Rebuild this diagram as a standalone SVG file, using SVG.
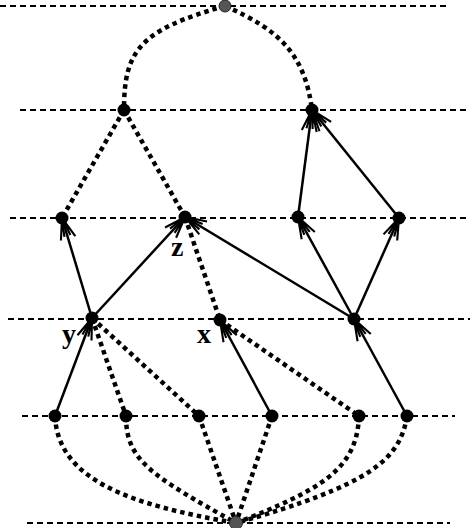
<svg xmlns="http://www.w3.org/2000/svg" width="474" height="528" viewBox="0 0 474 528">
<style>
.lvl{stroke:#000;stroke-width:2;stroke-dasharray:6 4;fill:none}
.dot{stroke:#000;stroke-width:4.5;stroke-dasharray:4.5 4;fill:none}
.arr{stroke:#000;stroke-width:2.5;fill:none;marker-end:url(#ah)}
.n{fill:#000}
.g{fill:#555;stroke:#222;stroke-width:1}
.lab{font-family:"Liberation Serif",serif;font-weight:bold;font-size:28px;fill:#000}
</style>
<defs>
<marker id="ah" markerUnits="userSpaceOnUse" markerWidth="30" markerHeight="30" viewBox="-22 -11 24 22" refX="0" refY="0" orient="auto">
<path d="M-17,-6 L0,0 L-17,6 M-15,-2.5 L0,0 L-15,2.5" stroke="#000" stroke-width="1.7" fill="none"/>
</marker>
</defs>
<g id="levels">
<line class="lvl" x1="0" y1="6" x2="450" y2="6"/>
<line class="lvl" x1="20" y1="110" x2="470" y2="110"/>
<line class="lvl" x1="10" y1="218" x2="468" y2="218"/>
<line class="lvl" x1="8" y1="319" x2="470" y2="319"/>
<line class="lvl" x1="22" y1="416" x2="455" y2="416"/>
<line class="lvl" x1="27" y1="523" x2="450" y2="523"/>
</g>
<g id="connectors">
<path class="dot" d="M225,6 C140,30 124,50 124,110"/>
<path class="dot" d="M225,6 C280,30 305,55 312,110"/>
<path class="dot" d="M124,110 L62,218"/>
<path class="dot" d="M124,110 L185,217"/>
<path class="dot" d="M185,217 L220,320"/>
<path class="dot" d="M92,318 L126,416"/>
<path class="dot" d="M92,318 L199,416"/>
<path class="dot" d="M220,320 L359,416"/>
<path class="dot" d="M55,416 C58,480 130,505 236,523"/>
<path class="dot" d="M126,416 C126,460 150,475 236,523"/>
<path class="dot" d="M199,416 L236,523"/>
<path class="dot" d="M272,416 L236,523"/>
<path class="dot" d="M359,416 C357,470 320,490 236,523"/>
<path class="dot" d="M407,416 C400,460 370,485 236,523"/>
<path class="arr" d="M298,217 L312,110"/>
<path class="arr" d="M399,218 L312,110"/>
<path class="arr" d="M92,318 L62,218"/>
<path class="arr" d="M92,318 L185,217"/>
<path class="arr" d="M354,319 L185,217"/>
<path class="arr" d="M354,319 L298,217"/>
<path class="arr" d="M354,319 L399,218"/>
<path class="arr" d="M55,416 L92,318"/>
<path class="arr" d="M272,416 L220,320"/>
<path class="arr" d="M407,416 L354,319"/>
</g>
<g id="top"><circle class="g" cx="225" cy="6" r="6"/></g>
<g id="a1"><circle class="n" cx="124" cy="110" r="6.5"/></g>
<g id="a2"><circle class="n" cx="312" cy="110" r="6.5"/></g>
<g id="b1"><circle class="n" cx="62" cy="218" r="6.5"/></g>
<g id="z"><circle class="n" cx="185" cy="217" r="6.5"/><text class="lab" x="171" y="256">z</text></g>
<g id="b3"><circle class="n" cx="298" cy="217" r="6.5"/></g>
<g id="b4"><circle class="n" cx="399" cy="218" r="6.5"/></g>
<g id="y"><circle class="n" cx="92" cy="318" r="6.5"/><text class="lab" x="62" y="343">y</text></g>
<g id="x"><circle class="n" cx="220" cy="320" r="6.5"/><text class="lab" x="197" y="343">x</text></g>
<g id="c3"><circle class="n" cx="354" cy="319" r="6.5"/></g>
<g id="d1"><circle class="n" cx="55" cy="416" r="6.5"/></g>
<g id="d2"><circle class="n" cx="126" cy="416" r="6.5"/></g>
<g id="d3"><circle class="n" cx="199" cy="416" r="6.5"/></g>
<g id="d4"><circle class="n" cx="272" cy="416" r="6.5"/></g>
<g id="d5"><circle class="n" cx="359" cy="416" r="6.5"/></g>
<g id="d6"><circle class="n" cx="407" cy="416" r="6.5"/></g>
<g id="bottom"><circle class="g" cx="236" cy="523" r="6.5"/></g>
</svg>
